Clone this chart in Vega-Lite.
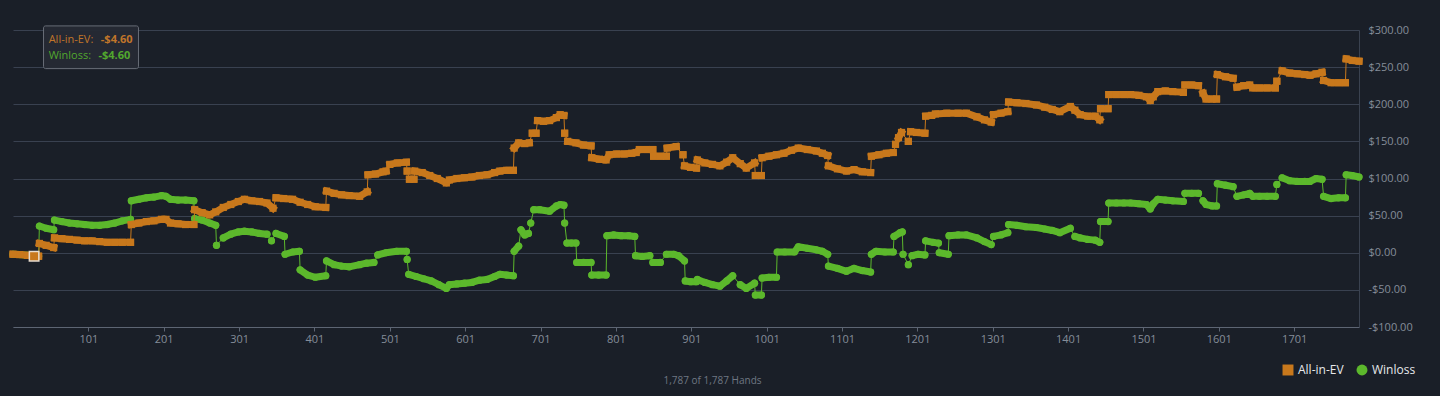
{
  "$schema": "https://vega.github.io/schema/vega-lite/v6.json",
  "width": 1346,
  "height": 297,
  "autosize": {"type": "none"},
  "padding": {"left": 13, "top": 30, "right": 81, "bottom": 69},
  "background": "#1a1f28",
  "config": {
    "view": {"stroke": null},
    "font": "Open Sans",
    "axis": {"labelFont": "Open Sans", "labelColor": "#858d99", "labelFontSize": 11},
    "axisY": {"tickCount": 9, "labelOverlap": false, "gridColor": "#394150"},
    "axisX": {"labelOverlap": false}
  },
  "datasets": {
    "wl": [
      {"h":1,"v":-2},{"h":10,"v":-2.5},{"h":20,"v":-3.5},{"h":29,"v":-4.6},{"h":35,"v":-4.6},
      {"h":36,"v":36},{"h":45,"v":33},{"h":55,"v":31},{"h":56,"v":44},{"h":66,"v":42},{"h":76,"v":40},{"h":86,"v":39},{"h":96,"v":38},{"h":106,"v":37},{"h":116,"v":37},{"h":126,"v":38},{"h":136,"v":40},{"h":146,"v":43},{"h":157,"v":45},
      {"h":158,"v":70},{"h":168,"v":72},{"h":178,"v":74},{"h":188,"v":75},{"h":198,"v":77},{"h":204,"v":76},{"h":210,"v":72},{"h":220,"v":71},{"h":230,"v":71},{"h":241,"v":70},
      {"h":242,"v":46},{"h":252,"v":44},{"h":262,"v":40},{"h":270,"v":37},
      {"h":271,"v":10},{"h":280,"v":20},{"h":290,"v":25},{"h":300,"v":28},{"h":308,"v":29},{"h":318,"v":28},{"h":328,"v":26},{"h":338,"v":25},{"h":344,"v":16},{"h":350,"v":26},{"h":361,"v":22},
      {"h":362,"v":-2},{"h":372,"v":1},{"h":381,"v":2},
      {"h":382,"v":-23},{"h":392,"v":-30},{"h":402,"v":-33},{"h":416,"v":-31},
      {"h":417,"v":-11},{"h":427,"v":-16},{"h":437,"v":-18},{"h":447,"v":-19},{"h":461,"v":-16},{"h":470,"v":-14},{"h":480,"v":-13},{"h":485,"v":-3},{"h":496,"v":0},{"h":510,"v":2},{"h":523,"v":2},
      {"h":524,"v":-9},{"h":526,"v":-29},{"h":536,"v":-32},{"h":546,"v":-35},{"h":556,"v":-38},{"h":566,"v":-43},{"h":576,"v":-48},{"h":580,"v":-43},{"h":590,"v":-42},{"h":600,"v":-41},{"h":610,"v":-40},{"h":620,"v":-37},{"h":630,"v":-36},{"h":640,"v":-32},{"h":647,"v":-29},{"h":656,"v":-30},{"h":665,"v":-31},
      {"h":666,"v":2},{"h":672,"v":9},{"h":675,"v":31},{"h":680,"v":24},{"h":685,"v":26},{"h":688,"v":40},{"h":692,"v":58},{"h":700,"v":58},{"h":713,"v":56},{"h":722,"v":63},{"h":727,"v":65},{"h":732,"v":64},
      {"h":733,"v":40},{"h":736,"v":13},{"h":742,"v":13},{"h":748,"v":13},
      {"h":749,"v":-13},{"h":758,"v":-13},{"h":768,"v":-13},
      {"h":769,"v":-30},{"h":778,"v":-30},{"h":788,"v":-30},
      {"h":789,"v":23},{"h":798,"v":24},{"h":808,"v":23},{"h":818,"v":23},{"h":826,"v":22},
      {"h":827,"v":-4},{"h":836,"v":-5},{"h":846,"v":-4},{"h":850,"v":-13},{"h":860,"v":-13},{"h":868,"v":-2},{"h":878,"v":-2},{"h":884,"v":-4},{"h":892,"v":-11},
      {"h":893,"v":-38},{"h":900,"v":-39},{"h":908,"v":-39},{"h":909,"v":-36},{"h":919,"v":-40},{"h":929,"v":-43},{"h":939,"v":-45},{"h":948,"v":-38},{"h":956,"v":-31},{"h":966,"v":-43},{"h":974,"v":-48},{"h":985,"v":-41},
      {"h":986,"v":-57},{"h":994,"v":-57},
      {"h":995,"v":-34},{"h":1004,"v":-33},{"h":1014,"v":-33},
      {"h":1015,"v":1},{"h":1025,"v":1},{"h":1038,"v":1},{"h":1043,"v":8},{"h":1055,"v":6},{"h":1067,"v":4},{"h":1075,"v":2},{"h":1082,"v":-2},
      {"h":1083,"v":-18},{"h":1095,"v":-21},{"h":1107,"v":-25},{"h":1117,"v":-21},{"h":1128,"v":-24},{"h":1139,"v":-26},
      {"h":1140,"v":-2},{"h":1146,"v":2},{"h":1158,"v":1},{"h":1169,"v":1},
      {"h":1170,"v":22},{"h":1178,"v":27},{"h":1181,"v":28},
      {"h":1182,"v":-2},{"h":1189,"v":-16},{"h":1194,"v":-4},{"h":1202,"v":-2},{"h":1211,"v":-3},
      {"h":1212,"v":16},{"h":1222,"v":14},{"h":1229,"v":13},{"h":1230,"v":0},{"h":1242,"v":-2},
      {"h":1243,"v":23},{"h":1255,"v":24},{"h":1266,"v":24},{"h":1280,"v":20},{"h":1290,"v":15},{"h":1299,"v":11},{"h":1302,"v":22},{"h":1312,"v":24},{"h":1321,"v":27},
      {"h":1322,"v":38},{"h":1333,"v":37},{"h":1345,"v":35},{"h":1359,"v":34},{"h":1370,"v":32},{"h":1380,"v":30},{"h":1390,"v":27},{"h":1404,"v":33},{"h":1410,"v":22},{"h":1417,"v":20},{"h":1427,"v":18},{"h":1437,"v":17},{"h":1443,"v":14},
      {"h":1444,"v":42},{"h":1454,"v":42},
      {"h":1455,"v":67},{"h":1465,"v":67},{"h":1475,"v":67},{"h":1484,"v":67},{"h":1495,"v":66},{"h":1505,"v":65},{"h":1510,"v":59},{"h":1514,"v":66},{"h":1520,"v":72},{"h":1530,"v":71},{"h":1540,"v":70},{"h":1554,"v":69},
      {"h":1556,"v":80},{"h":1565,"v":80},{"h":1574,"v":80},{"h":1580,"v":70},{"h":1584,"v":65},{"h":1592,"v":63},{"h":1598,"v":63},
      {"h":1599,"v":93},{"h":1610,"v":91},{"h":1620,"v":89},{"h":1625,"v":76},{"h":1634,"v":78},{"h":1642,"v":80},{"h":1646,"v":76},{"h":1655,"v":76},{"h":1665,"v":76},{"h":1676,"v":76},
      {"h":1678,"v":92},{"h":1685,"v":101},{"h":1695,"v":97},{"h":1705,"v":96},{"h":1715,"v":96},{"h":1722,"v":96},{"h":1730,"v":100},{"h":1738,"v":99},
      {"h":1740,"v":76},{"h":1750,"v":73},{"h":1760,"v":74},{"h":1769,"v":74},
      {"h":1770,"v":105},{"h":1778,"v":104},{"h":1787,"v":102}
    ],
    "ev": [
      {"h":1,"v":-2},{"h":10,"v":-2.5},{"h":20,"v":-3.5},{"h":29,"v":-4.6},{"h":35,"v":-4.6},
      {"h":36,"v":12.5},{"h":45,"v":10},{"h":55,"v":7},{"h":56,"v":20},{"h":66,"v":19},{"h":76,"v":18},{"h":86,"v":17},{"h":96,"v":16},{"h":106,"v":16},{"h":116,"v":15},{"h":126,"v":14},{"h":136,"v":14},{"h":146,"v":14},{"h":157,"v":14},
      {"h":158,"v":38},{"h":168,"v":40},{"h":178,"v":42},{"h":188,"v":43},{"h":198,"v":45},{"h":204,"v":45},{"h":210,"v":40},{"h":220,"v":39},{"h":230,"v":38},{"h":241,"v":38},
      {"h":242,"v":58},{"h":252,"v":54},{"h":262,"v":51},{"h":270,"v":55},{"h":280,"v":61},{"h":290,"v":65},{"h":300,"v":69},{"h":308,"v":72},{"h":318,"v":70},{"h":328,"v":69},{"h":338,"v":67},{"h":346,"v":60},{"h":350,"v":74},{"h":360,"v":73},{"h":372,"v":72},{"h":382,"v":68},{"h":392,"v":65},{"h":402,"v":62},{"h":416,"v":61},
      {"h":417,"v":83},{"h":427,"v":80},{"h":437,"v":78},{"h":447,"v":77},{"h":461,"v":76},{"h":471,"v":82},
      {"h":472,"v":105},{"h":482,"v":106},{"h":492,"v":109},{"h":496,"v":110},{"h":501,"v":119},{"h":511,"v":121},{"h":523,"v":122},
      {"h":524,"v":110},{"h":527,"v":99},{"h":533,"v":99},{"h":534,"v":110},{"h":544,"v":108},{"h":554,"v":104},{"h":564,"v":100},{"h":576,"v":94},{"h":580,"v":98},{"h":590,"v":100},{"h":600,"v":101},{"h":610,"v":102},{"h":620,"v":104},{"h":630,"v":105},{"h":640,"v":108},{"h":647,"v":110},{"h":656,"v":111},{"h":665,"v":111},
      {"h":666,"v":141},{"h":672,"v":148},{"h":680,"v":147},{"h":686,"v":148},{"h":690,"v":161},{"h":695,"v":161},{"h":697,"v":178},{"h":705,"v":177},{"h":713,"v":178},{"h":722,"v":182},{"h":727,"v":186},{"h":732,"v":185},
      {"h":733,"v":161},{"h":737,"v":150},{"h":748,"v":148},{"h":758,"v":145},{"h":768,"v":144},
      {"h":769,"v":128},{"h":779,"v":126},{"h":788,"v":125},{"h":792,"v":132},{"h":802,"v":133},{"h":812,"v":133},{"h":822,"v":134},{"h":828,"v":135},{"h":832,"v":139},{"h":842,"v":139},{"h":850,"v":139},
      {"h":851,"v":130},{"h":860,"v":130},{"h":868,"v":130},{"h":869,"v":141},{"h":881,"v":143},{"h":890,"v":132},
      {"h":892,"v":117},{"h":900,"v":115},{"h":908,"v":114},{"h":909,"v":125},{"h":919,"v":121},{"h":929,"v":119},{"h":939,"v":117},{"h":948,"v":122},{"h":956,"v":128},{"h":966,"v":120},{"h":974,"v":114},{"h":985,"v":121},
      {"h":986,"v":104},{"h":994,"v":104},
      {"h":995,"v":128},{"h":1004,"v":130},{"h":1014,"v":132},{"h":1024,"v":134},{"h":1034,"v":138},{"h":1043,"v":141},{"h":1055,"v":139},{"h":1067,"v":137},{"h":1075,"v":134},{"h":1082,"v":131},
      {"h":1083,"v":117},{"h":1095,"v":113},{"h":1107,"v":110},{"h":1117,"v":112},{"h":1128,"v":109},{"h":1139,"v":108},
      {"h":1140,"v":130},{"h":1150,"v":132},{"h":1160,"v":134},{"h":1169,"v":135},{"h":1172,"v":146},{"h":1176,"v":155},{"h":1180,"v":162},{"h":1189,"v":150},{"h":1192,"v":163},{"h":1200,"v":162},{"h":1211,"v":161},
      {"h":1212,"v":184},{"h":1220,"v":185},{"h":1225,"v":187},{"h":1240,"v":188},{"h":1255,"v":188},{"h":1266,"v":188},{"h":1280,"v":183},{"h":1290,"v":179},{"h":1299,"v":176},{"h":1302,"v":186},{"h":1312,"v":188},{"h":1321,"v":190},
      {"h":1322,"v":203},{"h":1333,"v":202},{"h":1345,"v":201},{"h":1359,"v":199},{"h":1370,"v":196},{"h":1380,"v":193},{"h":1390,"v":190},{"h":1404,"v":197},{"h":1410,"v":192},{"h":1417,"v":186},{"h":1427,"v":184},{"h":1437,"v":184},{"h":1443,"v":179},
      {"h":1444,"v":194},{"h":1454,"v":194},
      {"h":1455,"v":213},{"h":1465,"v":213},{"h":1475,"v":213},{"h":1484,"v":213},{"h":1495,"v":212},{"h":1505,"v":210},{"h":1510,"v":205},{"h":1514,"v":210},{"h":1520,"v":217},{"h":1530,"v":218},{"h":1540,"v":217},{"h":1554,"v":216},
      {"h":1556,"v":226},{"h":1565,"v":226},{"h":1574,"v":225},{"h":1580,"v":215},{"h":1584,"v":207},{"h":1592,"v":207},{"h":1598,"v":207},
      {"h":1599,"v":240},{"h":1610,"v":237},{"h":1620,"v":235},{"h":1625,"v":223},{"h":1634,"v":225},{"h":1642,"v":226},{"h":1646,"v":222},{"h":1655,"v":222},{"h":1665,"v":222},{"h":1676,"v":222},
      {"h":1678,"v":231},{"h":1685,"v":245},{"h":1695,"v":242},{"h":1705,"v":241},{"h":1715,"v":240},{"h":1722,"v":239},{"h":1730,"v":241},{"h":1738,"v":243},
      {"h":1740,"v":232},{"h":1750,"v":229},{"h":1760,"v":229},{"h":1769,"v":229},
      {"h":1770,"v":261},{"h":1778,"v":259},{"h":1787,"v":258}
    ]
  },
  "layer": [
    {
      "data": {"name": "wl"},
      "transform": [
        {"window": [{"op": "lag", "field": "v", "as": "pv"}], "sort": [{"field": "h"}]},
        {"calculate": "datum.pv == null || abs(datum.v - datum.pv) >= 9 ? 1 : 0", "as": "brk"},
        {"window": [{"op": "sum", "field": "brk", "as": "seg"}], "sort": [{"field": "h"}], "frame": [null, 0]}
      ],
      "encoding": {
        "x": {"field": "h", "type": "quantitative",
          "scale": {"domain": [1, 1787], "nice": false, "zero": false},
          "axis": {"orient": "bottom", "values": [101,201,301,401,501,601,701,801,901,1001,1101,1201,1301,1401,1501,1601,1701], "format": "d", "labelOverlap": false, "grid": false, "domain": true, "domainColor": "#5d6573", "ticks": true, "tickColor": "#5d6573", "tickSize": 4, "labelPadding": 2,
            "title": "1,787 of 1,787 Hands", "titleFont": "Open Sans", "titleFontSize": 10, "titleFontWeight": "normal", "titleColor": "#6f7783", "titlePadding": 31, "titleX": 699, "titleAnchor": "middle", "titleAlign": "center"}},
        "y": {"field": "v", "type": "quantitative",
          "scale": {"domain": [-100, 300], "nice": false, "zero": false},
          "axis": {"orient": "right", "values": [-100,-50,0,50,100,150,200,250,300], "tickCount": 9, "labelOverlap": false, "labelExpr": "(datum.value < 0 ? '-' : '') + '$' + format(abs(datum.value), ',.2f')", "grid": true, "gridColor": "#394150", "gridWidth": 1, "domain": true, "domainColor": "#3a4250", "ticks": false, "labelPadding": 9, "title": null}},
        "color": {"datum": "Winloss", "type": "nominal",
          "scale": {"domain": ["All-in-EV", "Winloss"], "range": ["#c8781c", "#5cb82c"]},
          "legend": {"orient": "none", "legendX": 1269, "legendY": 334, "direction": "horizontal", "title": null, "labelColor": "#e6e8eb", "labelFontSize": 12, "labelFontWeight": "normal", "labelFont": "Open Sans", "symbolSize": 120, "columnPadding": 12, "symbolStrokeWidth": 0}}
      },
      "layer": [
        {"mark": {"type": "line", "strokeWidth": 7, "strokeCap": "round", "strokeJoin": "round"},
         "encoding": {"detail": {"field": "seg", "type": "nominal"}}},
        {"mark": {"type": "line", "strokeWidth": 1, "interpolate": "linear"}},
        {"mark": {"type": "point", "filled": true, "size": 52, "opacity": 1},
         "encoding": {"shape": {"datum": "Winloss", "type": "nominal", "scale": {"domain": ["All-in-EV", "Winloss"], "range": ["square", "circle"]}}}}
      ]
    },
    {
      "data": {"name": "ev"},
      "transform": [
        {"window": [{"op": "lag", "field": "v", "as": "pv"}], "sort": [{"field": "h"}]},
        {"calculate": "datum.pv == null || abs(datum.v - datum.pv) >= 9 ? 1 : 0", "as": "brk"},
        {"window": [{"op": "sum", "field": "brk", "as": "seg"}], "sort": [{"field": "h"}], "frame": [null, 0]}
      ],
      "encoding": {
        "x": {"field": "h", "type": "quantitative"},
        "y": {"field": "v", "type": "quantitative"},
        "color": {"datum": "All-in-EV", "type": "nominal"}
      },
      "layer": [
        {"mark": {"type": "line", "strokeWidth": 7, "strokeCap": "square", "strokeJoin": "round"},
         "encoding": {"detail": {"field": "seg", "type": "nominal"}}},
        {"mark": {"type": "line", "strokeWidth": 1, "interpolate": "linear"}},
        {"mark": {"type": "point", "filled": true, "size": 52, "opacity": 1},
         "encoding": {"shape": {"datum": "All-in-EV", "type": "nominal"}}}
      ]
    },
    {
      "data": {"values": [{}]},
      "mark": {"type": "point", "shape": "square", "filled": true, "size": 90, "fill": "#c8781c", "stroke": "#e8dccd", "strokeWidth": 1.5, "opacity": 1},
      "encoding": {"x": {"datum": 29, "type": "quantitative"}, "y": {"datum": -4.6, "type": "quantitative"}}
    },
    {
      "data": {"values": [{}]},
      "mark": {"type": "rect", "fill": "#262a34", "stroke": "#6d727c", "strokeWidth": 1, "cornerRadius": 2, "opacity": 0.95},
      "encoding": {
        "x": {"datum": 41.5, "type": "quantitative"}, "x2": {"datum": 167.5},
        "y": {"datum": 305.5, "type": "quantitative"}, "y2": {"datum": 248}
      }
    },
    {
      "data": {"values": [{}]},
      "mark": {"type": "text", "text": "All-in-EV:", "align": "left", "baseline": "middle", "fontSize": 11, "font": "Open Sans", "color": "#c0752a"},
      "encoding": {"x": {"datum": 48.3, "type": "quantitative"}, "y": {"datum": 286.5, "type": "quantitative"}}
    },
    {
      "data": {"values": [{}]},
      "mark": {"type": "text", "text": "-$4.60", "align": "left", "baseline": "middle", "fontSize": 11, "fontWeight": "bold", "font": "Open Sans", "color": "#c0752a"},
      "encoding": {"x": {"datum": 117.5, "type": "quantitative"}, "y": {"datum": 286.5, "type": "quantitative"}}
    },
    {
      "data": {"values": [{}]},
      "mark": {"type": "text", "text": "Winloss:", "align": "left", "baseline": "middle", "fontSize": 11, "font": "Open Sans", "color": "#52a82e"},
      "encoding": {"x": {"datum": 48.3, "type": "quantitative"}, "y": {"datum": 265.4, "type": "quantitative"}}
    },
    {
      "data": {"values": [{}]},
      "mark": {"type": "text", "text": "-$4.60", "align": "left", "baseline": "middle", "fontSize": 11, "fontWeight": "bold", "font": "Open Sans", "color": "#52a82e"},
      "encoding": {"x": {"datum": 114.3, "type": "quantitative"}, "y": {"datum": 265.4, "type": "quantitative"}}
    }
  ]
}
